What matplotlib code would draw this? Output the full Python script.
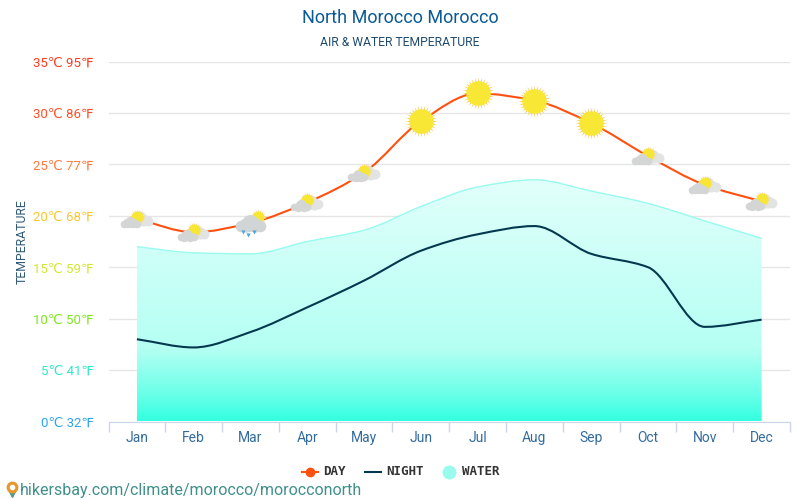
import numpy as np
import matplotlib
matplotlib.use('Agg')
import matplotlib.pyplot as plt
from matplotlib.path import Path
from matplotlib.patches import PathPatch
from matplotlib.transforms import offset_copy
from matplotlib.colors import LinearSegmentedColormap

plt.rcParams['font.family'] = ['Roboto', 'DejaVu Sans']

months = ['Jan', 'Feb', 'Mar', 'Apr', 'May', 'Jun', 'Jul', 'Aug', 'Sep', 'Oct', 'Nov', 'Dec']
day = [19.7, 18.4, 19.3, 21.3, 24.2, 29.2, 31.9, 31.2, 29.0, 25.8, 23.0, 21.4]
night = [8.0, 7.2, 8.7, 11.1, 13.7, 16.6, 18.2, 19.0, 16.3, 15.0, 9.2, 9.9]
water = [17.0, 16.4, 16.3, 17.5, 18.6, 20.9, 22.8, 23.5, 22.4, 21.2, 19.5, 17.8]
icons = ['part', 'part', 'rain', 'part', 'part', 'sun', 'sun', 'sun', 'sun', 'part', 'part', 'part']
tick_values = [0, 5, 10, 15, 20, 25, 30, 35]
tick_labels = ['0℃ 32℉', '5℃ 41℉', '10℃ 50℉', '15℃ 59℉', '20℃ 68℉', '25℃ 77℉', '30℃ 86℉', '35℃ 95℉']
tick_colors = ['#2ea6ee', '#2fe8cc', '#7ee81a', '#d2e82c', '#fcc72e', '#ff7a3c', '#ff4f26', '#ff3b1f']


def smooth_path(values):
    # monotone cubic through the monthly values, as bezier segments
    y = np.array(values, dtype=float)
    d = np.diff(y)
    m = np.zeros(len(y))
    for i in range(1, len(y) - 1):
        if d[i - 1] * d[i] > 0:
            m[i] = 2 * d[i - 1] * d[i] / (d[i - 1] + d[i])
    m[0] = d[0]
    m[-1] = d[-1]
    verts = [(0, y[0])]
    codes = [Path.MOVETO]
    for i in range(len(y) - 1):
        verts += [(i + 1 / 3, y[i] + m[i] / 3), (i + 2 / 3, y[i + 1] - m[i + 1] / 3), (i + 1, y[i + 1])]
        codes += [Path.CURVE4] * 3
    return verts, codes


def at(dx=0, dy=0):
    return offset_copy(ax.transData, fig=fig, x=dx, y=dy, units='dots')


def cloud(x, y, dx, dy, scale, color, z):
    for cx, cy, r in [(-7.5, -1.5, 4.5), (-3.5, -1, 5.5), (0, 0.5, 6.5), (3.5, -1, 5.5), (7.5, -1.5, 4.5)]:
        ax.scatter([x], [y], s=(2 * r * scale * 0.72) ** 2, color=color, linewidths=0, zorder=z,
                   transform=at(dx + cx * scale, dy + cy * scale))


def small_sun(x, y, dx, dy, z):
    ax.scatter([x], [y], s=150, marker=(18, 1, 0), color='#fbd58a', linewidths=0, zorder=z,
               transform=at(dx, dy))
    ax.scatter([x], [y], s=75, color='#f8e635', linewidths=0, zorder=z + 0.1, transform=at(dx, dy))


def draw_icon(x, y, kind):
    if kind == 'sun':
        ax.scatter([x], [y], s=540, marker=(28, 1, 0), color='#fbc02d', linewidths=0, zorder=5)
        ax.scatter([x], [y], s=310, color='#f8e835', linewidths=0, zorder=6)
    elif kind == 'part':
        cloud(x, y, 2.5, 0, 1.1, '#e2e3e3', 5)
        small_sun(x, y, 0, 2, 6)
        cloud(x, y, -6.5, -3.5, 0.85, '#d4d6d6', 8)
    else:
        small_sun(x, y, 8, 6, 5)
        cloud(x, y, 0, -1, 1.3, '#d2d5d5', 7)
        for rx, ry in [(-7, -9), (-2, -12), (4, -9)]:
            ax.scatter([x], [y], s=9, marker='v', color='#4da6e0', linewidths=0, zorder=8,
                       transform=at(rx, ry))


fig = plt.figure(figsize=(8, 5), dpi=100)
ax = fig.add_axes([108.5 / 800, 1 - 421.5 / 500, 681.5 / 800, 360 / 500])
ax.set_xlim(-0.5, 11.5)
ax.set_ylim(0, 35)

for s in ['top', 'right', 'left']:
    ax.spines[s].set_visible(False)
ax.spines['bottom'].set_color('#ccd6eb')
ax.spines['bottom'].set_zorder(4)

ax.set_yticks(tick_values)
ax.set_yticklabels(tick_labels, fontsize=9.5)
for lab, c in zip(ax.get_yticklabels(), tick_colors):
    lab.set_color(c)
ax.tick_params(axis='y', length=0, pad=10.5)
ax.grid(axis='y', color='#e6e6e6', linewidth=1)
ax.set_axisbelow(True)

ax.set_xticks(np.arange(12))
ax.set_xticklabels(months, fontsize=10, color='#336c9c')
ax.set_xticks(np.arange(13) - 0.5, minor=True)
ax.tick_params(axis='x', which='major', length=0, pad=7)
ax.tick_params(axis='x', which='minor', length=7, color='#ccd6eb', width=1)

ax.text(-0.127, 0.5, 'TEMPERATURE', rotation=90, transform=ax.transAxes, fontsize=8.8,
        color='#2f5a78', ha='center', va='center')

# water area with vertical gradient
verts, codes = smooth_path(water)
area = Path(verts + [(11, 0), (0, 0), (0, water[0])], codes + [Path.LINETO] * 3)
cmap = LinearSegmentedColormap.from_list('water', [(0, '#33ffe0'), (0.1, '#66ffe8'), (0.3, '#b5fff3'),
                                                   (0.6, '#c8fff7'), (1, '#e2fffb')])
img = ax.imshow(np.linspace(1, 0, 256).reshape(-1, 1), cmap=cmap, extent=[0, 11, 0, 23.5],
                aspect='auto', zorder=1, vmin=0, vmax=1)
clip = PathPatch(area, transform=ax.transData, facecolor='none', edgecolor='none')
ax.add_patch(clip)
img.set_clip_path(clip)
ax.set_xlim(-0.5, 11.5)
ax.set_ylim(0, 35)
v, c = smooth_path(water)
ax.add_patch(PathPatch(Path(v, c), facecolor='none', edgecolor='#98fbee', linewidth=1, zorder=2))

v, c = smooth_path(night)
ax.add_patch(PathPatch(Path(v, c), facecolor='none', edgecolor='#04384f', linewidth=1.5, zorder=3))
v, c = smooth_path(day)
ax.add_patch(PathPatch(Path(v, c), facecolor='none', edgecolor='#ff5010', linewidth=1.5, zorder=4))

for i in range(12):
    draw_icon(i, day[i], icons[i])

fig.text(0.5, 1 - 18 / 500, 'North Morocco Morocco', fontsize=13, color='#0a5a96', ha='center', va='center')
fig.text(0.5, 1 - 42 / 500, 'AIR & WATER TEMPERATURE', fontsize=8.7, color='#1f4b6e', ha='center', va='center')

# legend
ly = 1 - 471.5 / 500
fig.add_artist(plt.Line2D([302 / 800, 318 / 800], [ly, ly], color='#ff5010', linewidth=1.5,
                          transform=fig.transFigure))
fig.add_artist(plt.Line2D([310 / 800], [ly], color='#ff5010', marker='o', markersize=6,
                          linewidth=0, transform=fig.transFigure))
fig.add_artist(plt.Line2D([365 / 800, 381 / 800], [ly, ly], color='#04384f', linewidth=1.5,
                          transform=fig.transFigure))
fig.add_artist(plt.Line2D([449 / 800], [ly], color='#98fbee', marker='o', markersize=9,
                          linewidth=0, transform=fig.transFigure))
for tx, t in [(323, 'DAY'), (386, 'NIGHT'), (462, 'WATER')]:
    fig.text(tx / 800, ly, t, fontsize=9, family='DejaVu Sans Mono', fontweight='bold', color='#333333',
             ha='left', va='center')

fig.text(20 / 800, 1 - 490 / 500, 'hikersbay.com/climate/morocco/moroccconorth'.replace('moroccconorth', 'morocconorth'),
         fontsize=11.5, color='#3f8f8a', ha='left', va='center')
# map pin in the footer
fig.add_artist(plt.Line2D([12 / 800], [1 - 494 / 500], color='#5a9a8a', marker='v', markersize=5,
                          linewidth=0, transform=fig.transFigure))
fig.add_artist(plt.Line2D([12 / 800], [1 - 487 / 500], color='#e8962e', marker='o', markersize=7.5,
                          linewidth=0, transform=fig.transFigure))
fig.add_artist(plt.Line2D([12 / 800], [1 - 487 / 500], color='white', marker='o', markersize=3,
                          linewidth=0, transform=fig.transFigure))

fig.savefig('out.png', dpi=100)
